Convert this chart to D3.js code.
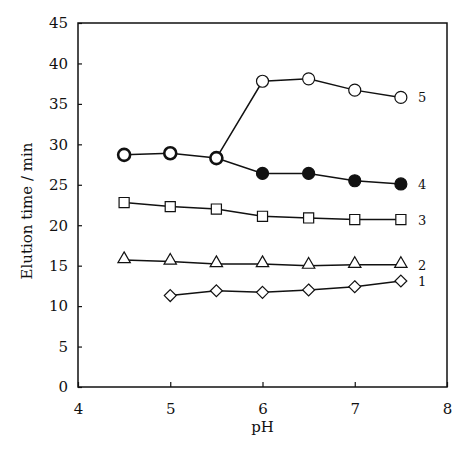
<!DOCTYPE html>
<html>
<head>
<meta charset="utf-8">
<script src="https://cdn.jsdelivr.net/npm/d3@7"></script>
<style>
  body { margin: 0; background: #fff; }
  text { font-family: "DejaVu Serif", "Liberation Serif", serif; fill: #111; }
</style>
</head>
<body>
<div id="chart"></div>
<script>
// pH values and elution times
const pH = [4.5, 5, 5.5, 6, 6.5, 7, 7.5];
const series1 = [null, 11.3, 11.9, 11.7, 12.0, 12.4, 13.1];
const series2 = [15.7, 15.5, 15.2, 15.2, 15.0, 15.1, 15.1];
const series3 = [22.8, 22.3, 22.0, 21.1, 20.9, 20.7, 20.7];
const series4 = [28.7, 28.9, 28.3, 26.4, 26.4, 25.5, 25.1];
const series5 = [28.7, 28.9, 28.3, 37.8, 38.1, 36.7, 35.8];
const xTicks = [4, 5, 6, 7, 8];
const yTicks = [0, 5, 10, 15, 20, 25, 30, 35, 40, 45];

const margin = {top: 23, right: 27, bottom: 66, left: 78};
const W = 474, H = 453;
const width = W - margin.left - margin.right;
const height = H - margin.top - margin.bottom;

const svg = d3.select("#chart").append("svg")
    .attr("width", W)
    .attr("height", H)
  .append("g")
    .attr("transform", `translate(${margin.left},${margin.top})`);

const x = d3.scaleLinear().domain([4, 8]).range([0, width]);
const y = d3.scaleLinear().domain([0, 45]).range([height, 0]);

// frame
svg.append("rect")
    .attr("width", width).attr("height", height)
    .attr("fill", "none").attr("stroke", "#111").attr("stroke-width", 1.5);

// axes with inward ticks
const xAxis = svg.append("g")
    .attr("transform", `translate(0,${height})`)
    .call(d3.axisBottom(x).tickValues(xTicks).tickSize(-5).tickPadding(16).tickFormat(d3.format("d")));
const yAxis = svg.append("g")
    .call(d3.axisLeft(y).tickValues(yTicks).tickSize(-4).tickPadding(10).tickFormat(d3.format("d")));
[xAxis, yAxis].forEach(a => {
  a.select(".domain").remove();
  a.selectAll("line").attr("stroke", "#111").attr("stroke-width", 1.2);
  a.selectAll("text").attr("font-size", 15).attr("font-family", '"DejaVu Serif", serif').attr("fill", "#111");
});

svg.append("text")
    .attr("x", width / 2).attr("y", height + 45)
    .attr("text-anchor", "middle").attr("font-size", 15)
    .text("pH");
svg.append("text")
    .attr("transform", "rotate(-90)")
    .attr("x", -height / 2 - 6).attr("y", -margin.left + 32)
    .attr("text-anchor", "middle").attr("font-size", 15)
    .text("Elution time / min");

const line = d3.line()
    .defined(d => d.v !== null)
    .x(d => x(d.x)).y(d => y(d.v));

const toPts = arr => pH.map((p, i) => ({x: p, v: arr[i]}));

const all = [
  {name: "1", data: toPts(series1), shape: "diamond"},
  {name: "2", data: toPts(series2), shape: "triangle"},
  {name: "3", data: toPts(series3), shape: "square"},
  {name: "4", data: toPts(series4), shape: "filled"},
  {name: "5", data: toPts(series5), shape: "circle"}
];

// lines: series 5 only drawn from pH 5.5 onward (shares first points with 4)
all.forEach(s => {
  const pts = s.name === "5" ? s.data.slice(2) : s.data;
  svg.append("path")
      .datum(pts)
      .attr("fill", "none").attr("stroke", "#111").attr("stroke-width", 1.5)
      .attr("d", line);
});

const sym = {
  diamond: d3.symbol().type(d3.symbolDiamond2).size(90),
  triangle: d3.symbol().type(d3.symbolTriangle2).size(110),
  square: d3.symbol().type(d3.symbolSquare2).size(130)
};

all.forEach(s => {
  let pts = s.data.filter(d => d.v !== null);
  if (s.name === "5") pts = pts.slice(3);
  const g = svg.append("g");
  if (s.shape === "filled" || s.shape === "circle") {
    g.selectAll("circle").data(pts).enter().append("circle")
        .attr("cx", d => x(d.x)).attr("cy", d => y(d.v))
        .attr("r", 6)
        .attr("fill", (d, i) => s.shape === "filled" && i >= 3 ? "#111" : "#fff")
        .attr("stroke", "#111")
        .attr("stroke-width", (d, i) => s.shape === "filled" && i < 3 ? 2.6 : 1.2);
  } else {
    g.selectAll("path").data(pts).enter().append("path")
        .attr("transform", d => `translate(${x(d.x)},${y(d.v)})${s.shape === "triangle" ? " translate(0,-1)" : ""}`)
        .attr("d", sym[s.shape])
        .attr("fill", "#fff").attr("stroke", "#111").attr("stroke-width", 1.2);
  }
  const last = pts[pts.length - 1];
  svg.append("text")
      .attr("x", x(last.x) + 17).attr("y", y(last.v) + 5)
      .attr("font-size", 13)
      .text(s.name);
});
</script>
</body>
</html>
